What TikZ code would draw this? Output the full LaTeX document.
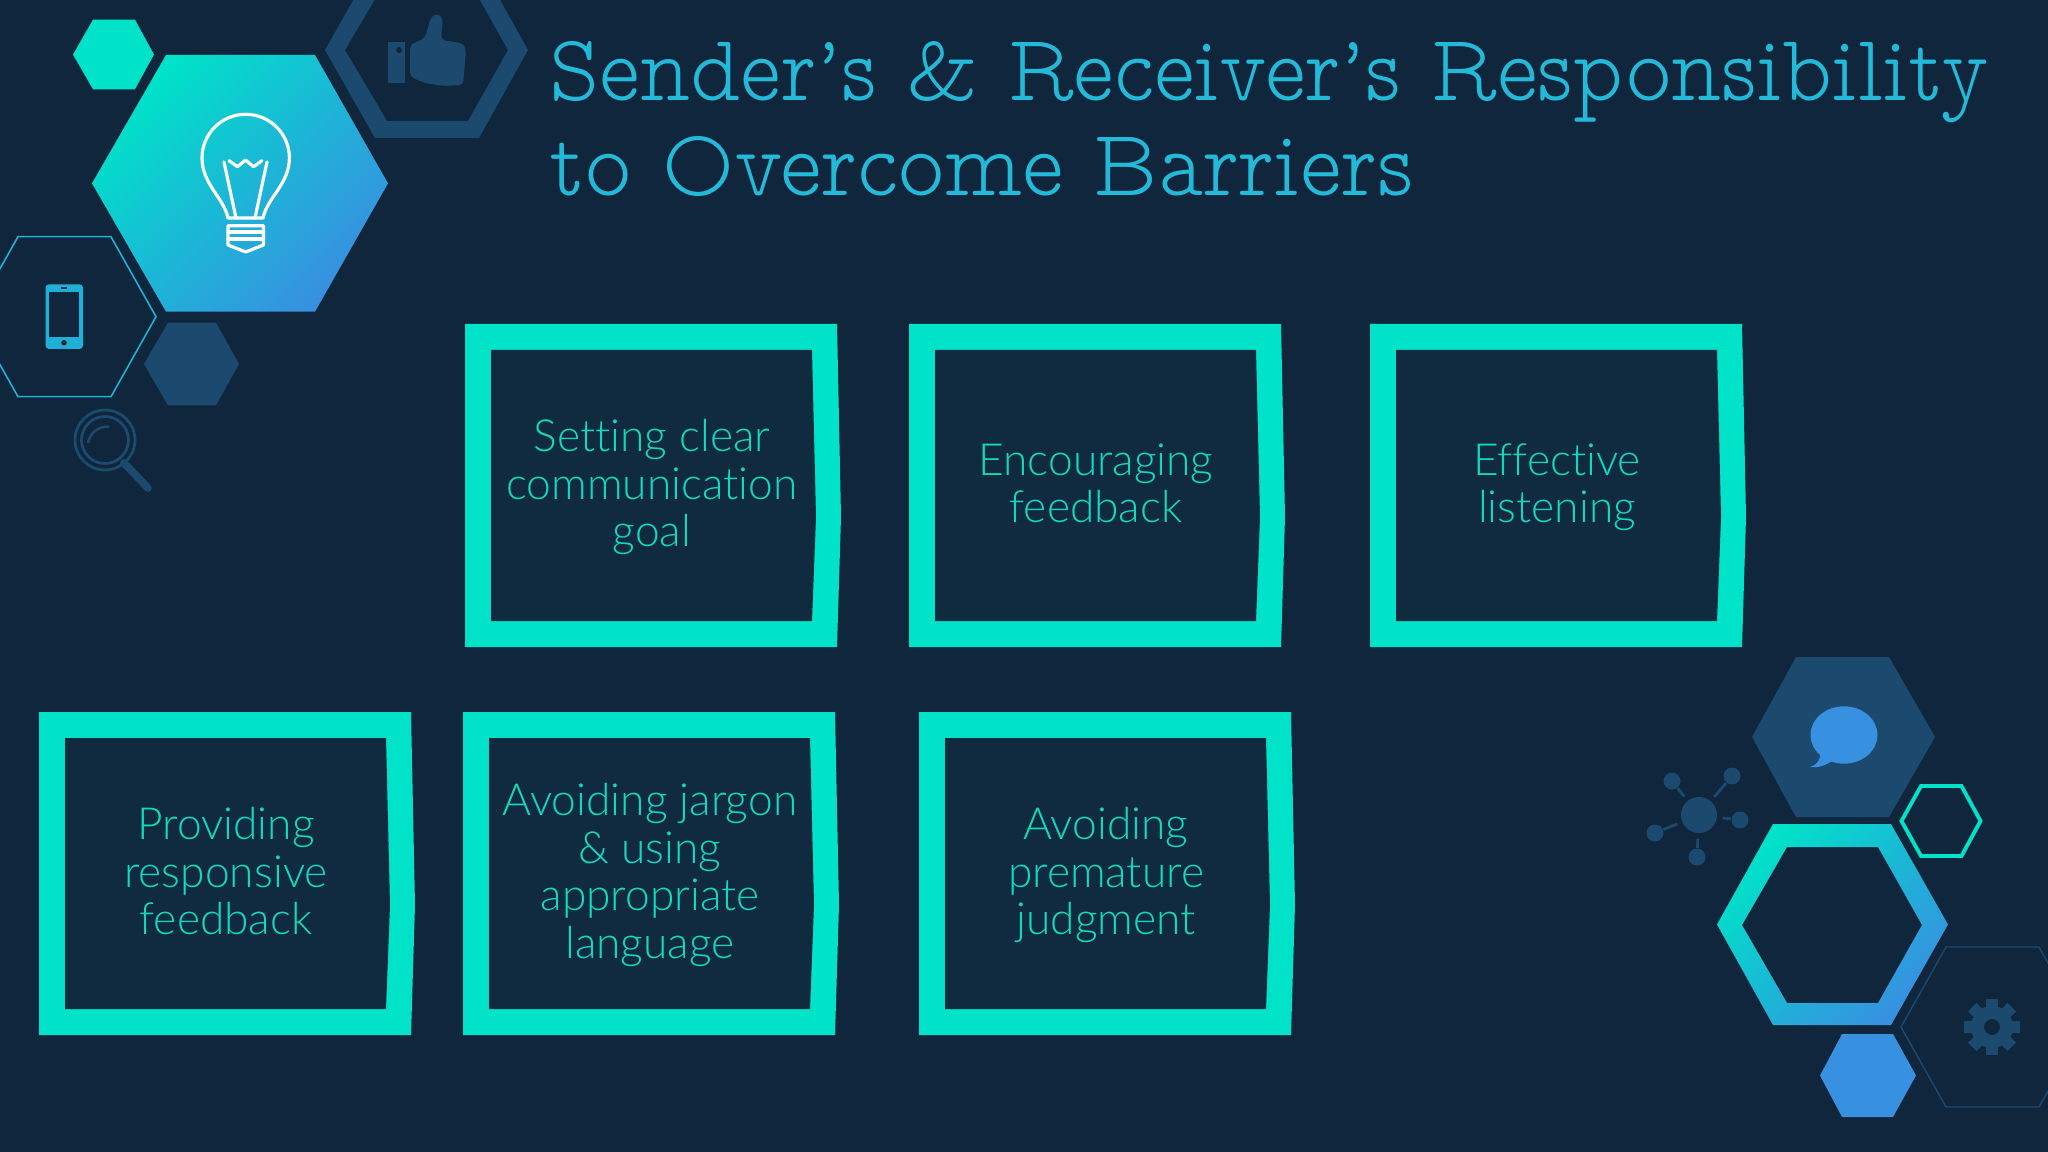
\documentclass[tikz,border=0pt]{standalone}
\usepackage{fontspec}
\setmainfont{Lato}
\newfontfamily\boxfont[Ligatures=NoCommon]{Lato Light}
\usetikzlibrary{positioning}
\definecolor{slidebg}{HTML}{0F263D}
\definecolor{innerbg}{HTML}{102A3F}
\definecolor{tealtone}{HTML}{00E3C8}
\definecolor{texttone}{HTML}{12D8BE}
\definecolor{titletone}{HTML}{22BAD8}
\definecolor{bluetone}{HTML}{3890E0}
\definecolor{duskblue}{HTML}{1B4A6E}
\definecolor{phonetone}{HTML}{1FB0D8}
\newcommand{\hexpath}[6]{(#1,{(#5+#6)/2}) -- (#2,#5) -- (#3,#5) -- (#4,{(#5+#6)/2}) -- (#3,#6) -- (#2,#6) -- cycle}
\newcommand{\goalbox}[4]{
  \fill[tealtone, shift={(#2,#3)}] (0,0) -- (372,0) -- (376,193) -- (372,323) -- (0,323) -- cycle;
  \fill[innerbg, shift={(#2,#3)}] (26,26) -- (347,26) -- (351,193) -- (347,297) -- (26,297) -- cycle;
  \node[goal text] (#1) at ({#2+187},{#3+165.5}) {\strut #4\strut};
}
\tikzset {
  goal text/.style = {
    align = center,
    text = texttone,
    inner sep = 0,
    font = \boxfont\fontsize{12.6}{13.55}\selectfont
  },
  title text/.style = {
    anchor = base west,
    inner sep = 0,
    text = titletone,
    xscale = #1,
    transform shape,
    font = \fontfamily{lmvtt}\fontseries{l}\selectfont\fontsize{27}{27}\selectfont
  },
  % colour ramp of the two big hexagons
  ramp/.style = {
    left color = tealtone,
    right color = bluetone,
    middle color = phonetone!85!tealtone,
    shading angle = 45
  },
  bulb line/.style = {
    draw = white,
    line width = 0.9pt,
    line join = round,
    line cap = round
  },
  net dot/.style = {
    circle,
    fill = duskblue,
    inner sep = 0,
    minimum size = #1
  },
  net link/.style = {
    draw = duskblue,
    line width = 0.8pt,
    shorten <= 1.4pt
  }
}
\begin{document}
\begin{tikzpicture}[x=0.01cm,y=-0.01cm]
  \useasboundingbox (0,0) rectangle (2048,1152);
  \clip (0,0) rectangle (2048,1152);
  \fill[slidebg] (0,0) rectangle (2048,1152);

  % upper left hexagons
  \fill[tealtone] \hexpath{73}{93}{135}{154}{19.7}{89.3};
  \shade[ramp] \hexpath{92}{166}{315}{388}{55}{311.7};
  \fill[duskblue] \hexpath{144}{168}{216}{239}{322.7}{405.3};
  \fill[duskblue, even odd rule] \hexpath{325}{375}{479}{528}{-38}{138}
  \hexpath{345}{387}{468}{508}{-21}{121};
  \draw[phonetone, line width = 0.45pt] \hexpath{-27}{18}{111}{156}{236.7}{396.7};

  % lamp
  \draw[bulb line] (228,218) .. controls (224,198) and (202,184) .. (202,158)
  arc (180:360:43.7) .. controls (289.4,184) and (267,198) .. (263,218) -- cycle;
  \draw[bulb line] (224,162) -- (236,218);
  \draw[bulb line] (267,162) -- (255,218);
  \draw[bulb line] (229,160.7) -- (237.5,166.7) -- (245.5,160) -- (253.5,166.7) -- (262,160.7);
  \draw[bulb line] (228,225.7) -- (263.5,225.7) -- (263.5,245) -- (245.7,252) -- (228,245) -- cycle;
  \draw[bulb line] (228,232) -- (263.5,232);
  \draw[bulb line] (228,239) -- (263.5,239);

  % thumb
  \fill[duskblue] (387.5,41.7) rectangle (405,82.7);
  \fill[slidebg] (399,50) circle (3);
  \fill[duskblue, rounded corners = 1.2pt] (410,45) -- (425,38) -- (431,16.7) -- (437.5,13.3) -- (443,18.3)
  -- (441,40) -- (463,43.3) -- (466,50) -- (463,85) -- (443,86) -- (425,83) -- (410,76.7) -- cycle;

  % phone
  \fill[phonetone, rounded corners = 1pt] (45.5,284.3) rectangle (83,349);
  \fill[slidebg] (49,292.3) rectangle (79,336.7);
  \fill[slidebg] (61,287) rectangle (67,289);
  \fill[slidebg] (64,342.7) circle (2.8);

  % magnifier
  \draw[duskblue, line width = 0.8pt] (105,440) circle (30);
  \draw[duskblue, line width = 0.8pt] (105,440) circle (23.5);
  \draw[duskblue, line width = 0.7pt] (88,443) arc (190:275:20);
  \draw[duskblue, line width = 2.2pt, line cap = round] (124,463) -- (148,488);

  % lower right hexagons
  \fill[duskblue] \hexpath{1752}{1796}{1889}{1935}{657}{817};
  \fill[bluetone] (1844,735) ellipse (33.5 and 28.7);
  \fill[bluetone] (1820,752) .. controls (1821,760) and (1817,765) .. (1810,767)
  .. controls (1820,768) and (1826,765) .. (1832,761) -- cycle;
  \draw[tealtone, line width = 1.1pt] \hexpath{1901.5}{1921}{1961.5}{1980.5}{786}{856};
  \shade[ramp, even odd rule] \hexpath{1717}{1773}{1891}{1948}{824}{1025}
  \hexpath{1742}{1787}{1878}{1922}{847}{1003};
  \fill[bluetone] \hexpath{1820}{1842}{1893}{1916}{1034}{1117};
  \draw[duskblue, line width = 0.4pt] \hexpath{1901}{1946}{2039}{2084}{947}{1107};

  % gear
  \foreach \a in {0,45,...,315} {
    \fill[duskblue, shift={(1992,1027)}, rotate=\a] (20,-6) rectangle (28,6);
  }
  \fill[duskblue, even odd rule] (1992,1027) circle (21) (1992,1027) circle (8);

  % network
  \node[net dot=0.36cm] (hub) at (1699,815) {};
  \node[net dot=0.17cm] (net-a) at (1672,781) {};
  \node[net dot=0.17cm] (net-b) at (1732,776) {};
  \node[net dot=0.17cm] (net-c) at (1740,820) {};
  \node[net dot=0.17cm] (net-d) at (1697,857) {};
  \node[net dot=0.17cm] (net-e) at (1655,833) {};
  \foreach \n in {net-a,net-b,net-c,net-d,net-e} {
    \draw[net link] (hub) -- (\n);
  }

  % title
  \node[title text=0.909] (title-a) at (549,100.5) {Sender’s \& Receiver’s Responsibility};
  \node[title text=0.927] (title-b) at (549,195.5) {to Overcome Barriers};

  % boxes
  \goalbox{clear-goal}{465}{324}{Setting clear\\communication\\goal}
  \goalbox{encourage}{909}{324}{Encouraging\\feedback}
  \goalbox{listening}{1370}{324}{Effective\\listening}
  \goalbox{responsive}{39}{712}{Providing\\responsive\\feedback}
  \goalbox{jargon}{463}{712}{Avoiding jargon\\\& using\\appropriate\\language}
  \goalbox{judgment}{919}{712}{Avoiding\\premature\\judgment}
\end{tikzpicture}
\end{document}
